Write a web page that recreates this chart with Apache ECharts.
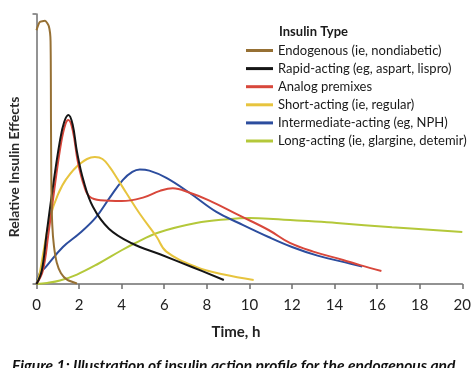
<!DOCTYPE html>
<html>
<head>
<meta charset="utf-8">
<script src="https://cdn.jsdelivr.net/npm/echarts@6/dist/echarts.min.js"></script>
<style>
html,body{margin:0;padding:0;background:#fff;}
#chart{width:474px;height:368px;}
</style>
</head>
<body>
<div id="chart"></div>
<script>
// ---- data (time in hours, relative effect 0-100) ----
const seriesNames = [
  "Endogenous (ie, nondiabetic)",
  "Rapid-acting (eg, aspart, lispro)",
  "Analog premixes",
  "Short-acting (ie, regular)",
  "Intermediate-acting (eg, NPH)",
  "Long-acting (ie, glargine, detemir)"
];
const xTicks = [0, 2, 4, 6, 8, 10, 12, 14, 16, 18, 20];

const endoT = [0, 0.15, 0.4, 0.58, 0.66, 0.68, 0.70, 0.74, 0.82, 0.95, 1.15, 1.45, 1.9];
const endoV = [94, 97, 97.5, 95.5, 90, 60, 35, 22, 14, 8, 4, 1.5, 0.2];

const rapidT = [0, 0.25, 0.48, 0.79, 1.1, 1.3, 1.5, 1.7, 1.9, 2.2, 2.65, 3.4, 4.5, 5.8, 7.3, 8.8];
const rapidV = [0, 5, 19, 37, 53, 60, 62.6, 59, 49, 38.5, 28.6, 20.5, 15, 11, 6.3, 1.5];

const premixT = [0, 0.3, 0.55, 0.87, 1.15, 1.35, 1.5, 1.7, 1.95, 2.25, 2.5, 3.0, 4.0, 5.0, 5.8, 6.4, 7.2, 8.1, 9.5, 10.9, 11.9, 13.0, 14.4, 15.2, 16.2];
const premixV = [0, 5, 18, 37, 52, 59, 60.7, 57, 45, 36, 32.3, 31, 30.7, 32, 34.5, 35.5, 33.8, 31, 25.5, 20, 15.2, 12, 8.9, 7, 4.8];

const shortT = [0, 0.15, 0.35, 0.65, 1.0, 1.41, 2.04, 2.74, 3.1, 3.44, 3.8, 4.22, 4.85, 5.64, 6.1, 7.5, 8.8, 10.2];
const shortV = [0, 4, 13, 25, 33, 39, 44.5, 47, 46.3, 43.3, 39, 33.7, 26, 17.5, 12, 6.3, 3.5, 1.5];

const nphT = [0, 0.15, 0.4, 1.24, 2.04, 2.8, 3.44, 4.05, 4.5, 4.85, 5.3, 6.1, 7.2, 8.45, 9.5, 10.9, 12, 13.2, 14.5, 15.3];
const nphV = [0, 4, 6, 13.7, 18.9, 24.8, 32, 38.5, 41.5, 42.4, 42, 39.3, 33.7, 26.7, 22.6, 17.4, 13.7, 10.5, 8, 6.5];

const longT = [0, 0.5, 1.1, 1.9, 2.9, 4.0, 4.6, 5.7, 7.5, 9.0, 10, 10.9, 12.5, 14.1, 16.7, 20];
const longV = [0, 0.4, 1.3, 3.5, 7.5, 12.5, 15, 19, 22.6, 24, 24.4, 24.2, 23.4, 22.6, 21, 19.3];

const colors = ["#967034", "#151515", "#d8473b", "#e7c43e", "#2c4d9e", "#b4c83a"];

function pairs(t, v) { return t.map((x, i) => [x, v[i]]); }
const allData = [
  pairs(endoT, endoV), pairs(rapidT, rapidV), pairs(premixT, premixV),
  pairs(shortT, shortV), pairs(nphT, nphV), pairs(longT, longV)
];

// draw order: long first, endogenous on top
const drawOrder = [5, 4, 3, 2, 1, 0];
const series = drawOrder.map(i => ({
  name: seriesNames[i],
  type: 'line',
  data: allData[i],
  smooth: i === 0 ? 0.2 : 0.4,
  showSymbol: false,
  lineStyle: { width: 2, color: colors[i] },
  itemStyle: { color: colors[i] },
  z: 10 - i
}));

const FONT = 'Lato';
const chart = echarts.init(document.getElementById('chart'), null, { renderer: 'canvas' });
chart.setOption({
  animation: false,
  backgroundColor: '#fff',
  grid: { left: 36.5, right: 10.5, top: 14, bottom: 84, containLabel: false },
  xAxis: {
    type: 'value', min: 0, max: 20, interval: 2,
    axisLine: { show: true, lineStyle: { color: '#6f6f6f', width: 1.5 } },
    axisTick: { show: true, inside: false, length: 5, lineStyle: { color: '#6f6f6f', width: 1.5 } },
    axisLabel: {
      margin: 14, fontSize: 15, color: '#222', fontFamily: FONT,
      formatter: v => (xTicks.indexOf(v) >= 0 ? String(v) : '')
    },
    splitLine: { show: false }
  },
  yAxis: {
    type: 'value', min: 0, max: 100, interval: 100,
    axisLine: { show: true, lineStyle: { color: '#6f6f6f', width: 1.5 } },
    axisTick: { show: true, length: 4, lineStyle: { color: '#6f6f6f', width: 1.5 } },
    axisLabel: { show: false },
    splitLine: { show: false }
  },
  legend: {
    orient: 'vertical',
    left: 241, top: 39,
    itemWidth: 27, itemHeight: 3, itemGap: 5.1,
    icon: 'rect',
    data: seriesNames,
    textStyle: { fontSize: 13, color: '#1a1a1a', fontFamily: FONT }
  },
  title: {
    text: 'Insulin Type',
    left: 274, top: 20,
    textStyle: { fontSize: 13, fontWeight: 'bold', color: '#1a1a1a', fontFamily: FONT }
  },
  graphic: [
    {
      type: 'text', x: 14, y: 167, rotation: Math.PI / 2,
      style: { text: 'Relative Insulin Effects', fontSize: 14, fontWeight: 'bold', fill: '#2a2a2a', fontFamily: FONT, textAlign: 'center', textVerticalAlign: 'middle' }
    },
    {
      type: 'text', x: 236, y: 332,
      style: { text: 'Time, h', fontSize: 15, fontWeight: 'bold', fill: '#222', fontFamily: FONT, textAlign: 'center', textVerticalAlign: 'middle' }
    },
    {
      type: 'text', x: 12, y: 358,
      style: { text: 'Figure 1: Illustration of insulin action profile for the endogenous and', fontSize: 15.6, fontWeight: 'bold', fontStyle: 'italic', fill: '#111', fontFamily: FONT, textAlign: 'left', textVerticalAlign: 'top' }
    }
  ],
  series: series
});
</script>
</body>
</html>
